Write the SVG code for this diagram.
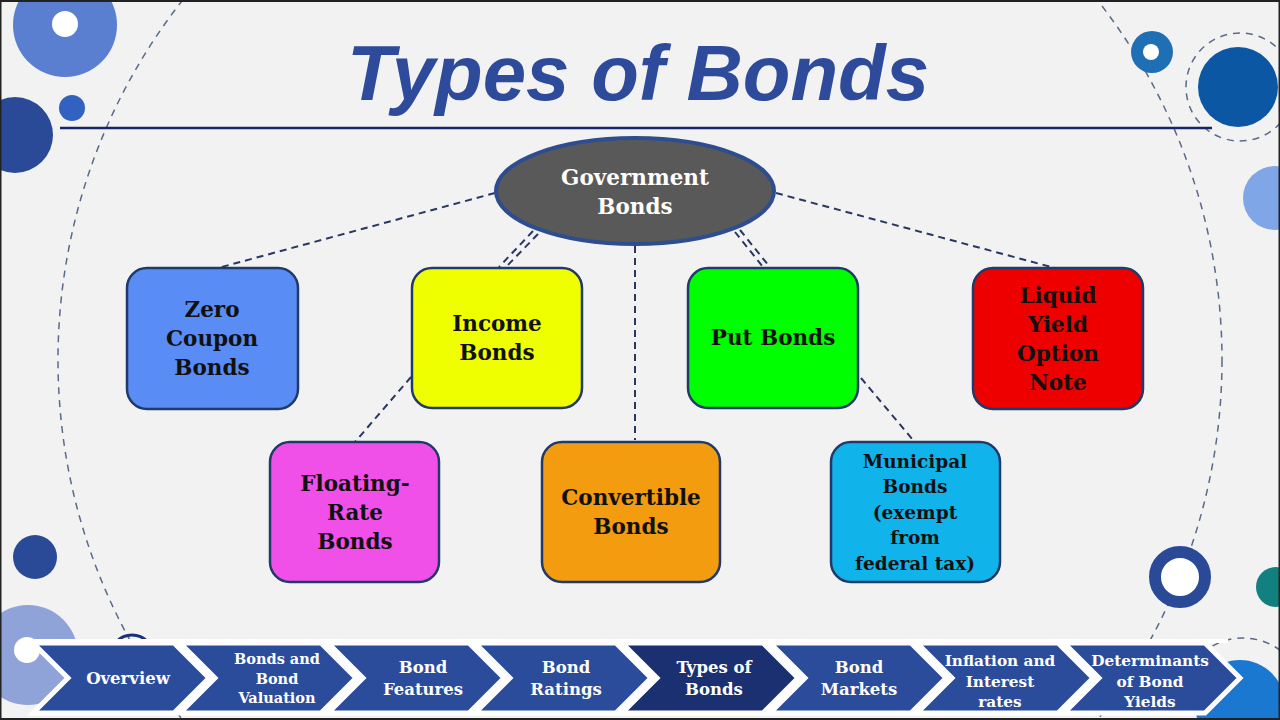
<svg xmlns="http://www.w3.org/2000/svg" width="1280" height="720" viewBox="0 0 1280 720">
  <style>
    .box { stroke: #203a6a; stroke-width: 2.5; }
    .nt { font-family: "DejaVu Serif", "Liberation Serif", serif; font-weight: bold; font-size: 21.5px; fill: #111111; text-anchor: middle; }
    .nts { font-size: 18.5px; }
    .gt { fill: #ffffff; }
    .conn { stroke: #2a3760; stroke-width: 2; stroke-dasharray: 7 5; fill: none; }
    .chev { fill: #2b4c9b; stroke: #ffffff; stroke-width: 5; stroke-linejoin: miter; }
    .chev.active { fill: #1b3070; }
    .ct { font-family: "DejaVu Serif", "Liberation Serif", serif; font-weight: bold; font-size: 16.5px; fill: #ffffff; text-anchor: middle; }
    .ct3 { font-size: 15.3px; }
    .ctv { font-size: 14.5px; }
    .deco-dash { fill: none; stroke: #5a6a8a; stroke-width: 1.5; stroke-dasharray: 7 6; }
  </style>

  <!-- background -->
  <rect x="0" y="0" width="1280" height="720" fill="#f2f2f2"/>

  <!-- decorations -->
  <g id="decorations">
    <circle cx="640" cy="360" r="582" class="deco-dash"/>
    <circle cx="65" cy="25" r="52" fill="#5a7fd0"/>
    <circle cx="65" cy="24" r="13" fill="#ffffff"/>
    <circle cx="15" cy="135" r="38" fill="#2a4a98"/>
    <circle cx="72" cy="108" r="13" fill="#3262bf"/>
    <circle cx="1152" cy="52" r="21" fill="#1f6fb5"/>
    <circle cx="1151" cy="52" r="8" fill="#ffffff"/>
    <circle cx="1240" cy="87" r="54" class="deco-dash"/>
    <circle cx="1238" cy="87" r="40" fill="#0b57a4"/>
    <circle cx="1275" cy="198" r="32" fill="#7fa6e6"/>
    <circle cx="35" cy="557" r="22" fill="#2a4a98"/>
    <circle cx="28" cy="655" r="50" fill="#8fa3d8"/>
    <circle cx="132" cy="657" r="22" fill="none" stroke="#1b2f7a" stroke-width="3"/>
    <circle cx="1180" cy="577" r="25" fill="#ffffff" stroke="#2a4a98" stroke-width="12"/>
    <circle cx="1276" cy="587" r="20" fill="#138080"/>
    <circle cx="1243" cy="700" r="62" class="deco-dash"/>
    <circle cx="1240" cy="705" r="45" fill="#1a78d0"/>
  </g>

  <!-- title -->
  <text x="638" y="100" font-family="Liberation Sans, Arial, sans-serif" font-weight="bold" font-style="italic" font-size="78" fill="#2e4b9b" text-anchor="middle">Types of Bonds</text>
  <line x1="60" y1="128" x2="1212" y2="128" stroke="#17246a" stroke-width="2.5"/>

  <!-- connectors -->
  <g id="connectors">
    <line class="conn" x1="495" y1="193" x2="218" y2="268"/>
    <line class="conn" x1="533" y1="231" x2="499" y2="267"/>
    <line class="conn" x1="538" y1="234" x2="505" y2="268"/>
    <line class="conn" x1="635" y1="246" x2="635" y2="440"/>
    <line class="conn" x1="735" y1="232" x2="763" y2="267"/>
    <line class="conn" x1="740" y1="230" x2="769" y2="266"/>
    <line class="conn" x1="776" y1="193" x2="1055" y2="268"/>
    <line class="conn" x1="411" y1="377" x2="355" y2="442"/>
    <line class="conn" x1="861" y1="378" x2="913" y2="440"/>
  </g>

  <!-- nodes -->
  <g id="node-government">
    <ellipse cx="635" cy="191" rx="139" ry="53" fill="#595959" stroke="#2e4d8f" stroke-width="4"/>
    <text class="nt gt" x="635" y="185">Government</text>
    <text class="nt gt" x="635" y="214">Bonds</text>
  </g>
  <g id="node-zero">
    <rect class="box" x="127" y="268" width="171" height="141" rx="20" fill="#5a8cf5"/>
    <text class="nt" x="212" y="317">Zero</text>
    <text class="nt" x="212" y="346">Coupon</text>
    <text class="nt" x="212" y="375">Bonds</text>
  </g>
  <g id="node-income">
    <rect class="box" x="412" y="268" width="170" height="140" rx="20" fill="#f0ff00"/>
    <text class="nt" x="497" y="331">Income</text>
    <text class="nt" x="497" y="360">Bonds</text>
  </g>
  <g id="node-put">
    <rect class="box" x="688" y="268" width="170" height="140" rx="20" fill="#00ff00"/>
    <text class="nt" x="773" y="345">Put Bonds</text>
  </g>
  <g id="node-liquid">
    <rect class="box" x="973" y="268" width="170" height="141" rx="20" fill="#ee0000"/>
    <text class="nt" x="1058" y="303">Liquid</text>
    <text class="nt" x="1058" y="332">Yield</text>
    <text class="nt" x="1058" y="361">Option</text>
    <text class="nt" x="1058" y="390">Note</text>
  </g>
  <g id="node-floating">
    <rect class="box" x="270" y="442" width="169" height="140" rx="20" fill="#f050e8"/>
    <text class="nt" x="355" y="491">Floating-</text>
    <text class="nt" x="355" y="520">Rate</text>
    <text class="nt" x="355" y="549">Bonds</text>
  </g>
  <g id="node-convertible">
    <rect class="box" x="542" y="442" width="178" height="140" rx="20" fill="#f49c10"/>
    <text class="nt" x="631" y="505">Convertible</text>
    <text class="nt" x="631" y="534">Bonds</text>
  </g>
  <g id="node-municipal">
    <rect class="box" x="831" y="442" width="169" height="140" rx="20" fill="#10b4ea"/>
    <text class="nt nts" x="915" y="468">Municipal</text>
    <text class="nt nts" x="915" y="493">Bonds</text>
    <text class="nt nts" x="915" y="519">(exempt</text>
    <text class="nt nts" x="915" y="544">from</text>
    <text class="nt nts" x="915" y="570">federal tax)</text>
  </g>

  <!-- navigation band -->
  <g id="nav">
    <circle cx="27" cy="650" r="13" fill="#ffffff"/>
    <rect x="28" y="639" width="1200" height="4" fill="#ffffff"/>
    <g id="nav-overview">
      <polygon class="chev" points="33,643 174,643 209,678 174,713 33,713 68,678"/>
      <text class="ct" x="128" y="684">Overview</text>
    </g>
    <g id="nav-valuation">
      <polygon class="chev" points="180,643 321,643 356,678 321,713 180,713 215,678"/>
      <text class="ct ctv" x="277" y="664">Bonds and</text>
      <text class="ct ctv" x="277" y="684">Bond</text>
      <text class="ct ctv" x="277" y="703">Valuation</text>
    </g>
    <g id="nav-features">
      <polygon class="chev" points="328,643 469,643 504,678 469,713 328,713 363,678"/>
      <text class="ct" x="423" y="673">Bond</text>
      <text class="ct" x="423" y="695">Features</text>
    </g>
    <g id="nav-ratings">
      <polygon class="chev" points="475,643 616,643 651,678 616,713 475,713 510,678"/>
      <text class="ct" x="566" y="673">Bond</text>
      <text class="ct" x="566" y="695">Ratings</text>
    </g>
    <g id="nav-types">
      <polygon class="chev active" points="622,643 763,643 798,678 763,713 622,713 657,678"/>
      <text class="ct" x="714" y="673">Types of</text>
      <text class="ct" x="714" y="695">Bonds</text>
    </g>
    <g id="nav-markets">
      <polygon class="chev" points="770,643 911,643 946,678 911,713 770,713 805,678"/>
      <text class="ct" x="859" y="673">Bond</text>
      <text class="ct" x="859" y="695">Markets</text>
    </g>
    <g id="nav-inflation">
      <polygon class="chev" points="917,643 1058,643 1093,678 1058,713 917,713 952,678"/>
      <text class="ct ct3" x="1000" y="666">Inflation and</text>
      <text class="ct ct3" x="1000" y="687">Interest</text>
      <text class="ct ct3" x="1000" y="707">rates</text>
    </g>
    <g id="nav-determinants">
      <polygon class="chev" points="1064,643 1205,643 1240,678 1205,713 1064,713 1099,678"/>
      <text class="ct ct3" x="1150" y="666">Determinants</text>
      <text class="ct ct3" x="1150" y="687">of Bond</text>
      <text class="ct ct3" x="1150" y="707">Yields</text>
    </g>
  </g>

  <!-- frame -->
  <rect x="0.5" y="1" width="1279" height="718" fill="none" stroke="#222222" stroke-width="2"/>
</svg>
